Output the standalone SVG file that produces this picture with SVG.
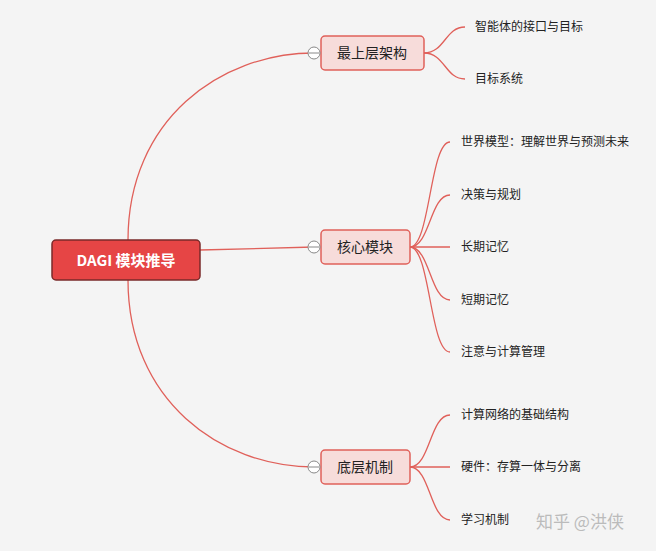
<svg xmlns="http://www.w3.org/2000/svg" width="656" height="551" viewBox="0 0 656 551">
<style>
.c{fill:none;stroke:#e0605a;stroke-width:1.3}
.b{fill:#f7dcda;stroke:#e0605a;stroke-width:1.5}
.bt{font-family:"Noto Sans CJK SC",sans-serif;font-size:14px;fill:#222;text-anchor:middle}
.lt{font-family:"Noto Sans CJK SC",sans-serif;font-size:12px;fill:#222}
.k{fill:#fff;stroke:#888;stroke-width:1}
</style>
<rect width="656" height="551" fill="#f4f4f4"/>
<g id="connectors">
<path class="c" d="M128,240 C128,120 220,53 314,53"/>
<path class="c" d="M200,250 L314,247"/>
<path class="c" d="M128,280 C128,400 220,467 314,467"/>
<path class="c" d="M424,53 C445,53 445,27 465,27"/>
<path class="c" d="M424,53 C445,53 445,79 465,79"/>
<path class="c" d="M410,247 C430,247 430,142 450,142"/>
<path class="c" d="M410,247 C430,247 430,195 450,195"/>
<path class="c" d="M410,247 L450,247"/>
<path class="c" d="M410,247 C430,247 430,300 450,300"/>
<path class="c" d="M410,247 C430,247 430,352 450,352"/>
<path class="c" d="M410,467 C430,467 430,415 450,415"/>
<path class="c" d="M410,467 L450,467"/>
<path class="c" d="M410,467 C430,467 430,520 450,520"/>
</g>
<g id="root"><rect x="52" y="240" width="148" height="40" rx="4" fill="#e64545" stroke="#7a2a2a" stroke-width="1.5"/><text x="126" y="266" class="bt" style="fill:#fff;font-weight:bold;font-size:15px">DAGI 模块推导</text></g>
<g id="n1"><rect class="b" x="321" y="36" width="103" height="34" rx="4"/><text x="372" y="58" class="bt">最上层架构</text><circle class="k" cx="314" cy="53" r="6"/><line x1="309" y1="53" x2="319" y2="53" stroke="#888"/></g>
<g id="n2"><rect class="b" x="321" y="230" width="89" height="34" rx="4"/><text x="365" y="252" class="bt">核心模块</text><circle class="k" cx="314" cy="247" r="6"/><line x1="309" y1="247" x2="319" y2="247" stroke="#888"/></g>
<g id="n3"><rect class="b" x="321" y="450" width="89" height="34" rx="4"/><text x="365" y="472" class="bt">底层机制</text><circle class="k" cx="314" cy="467" r="6"/><line x1="309" y1="467" x2="319" y2="467" stroke="#888"/></g>
<g id="leaves">
<text class="lt" x="475" y="31">智能体的接口与目标</text>
<text class="lt" x="475" y="83">目标系统</text>
<text class="lt" x="461" y="146">世界模型：理解世界与预测未来</text>
<text class="lt" x="461" y="199">决策与规划</text>
<text class="lt" x="461" y="251">长期记忆</text>
<text class="lt" x="461" y="304">短期记忆</text>
<text class="lt" x="461" y="356">注意与计算管理</text>
<text class="lt" x="461" y="419">计算网络的基础结构</text>
<text class="lt" x="461" y="471">硬件：存算一体与分离</text>
<text class="lt" x="461" y="524">学习机制</text>
</g>
<text x="536" y="528" style="font-family:'Noto Sans CJK SC',sans-serif;font-size:17px;fill:#bbb">知乎 @洪侠</text>
</svg>
